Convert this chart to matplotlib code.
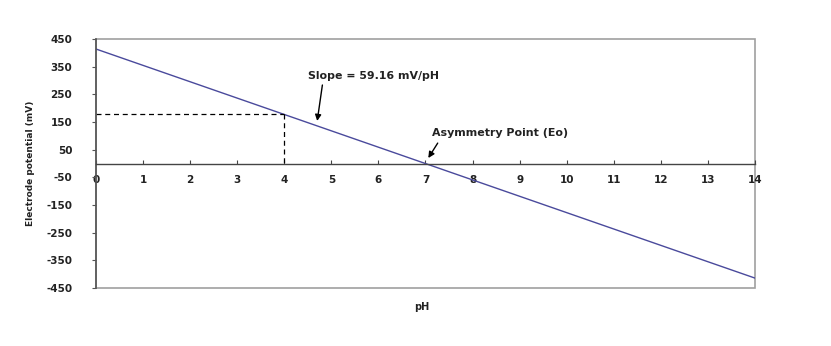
import matplotlib.pyplot as plt
from matplotlib.patches import Rectangle

plt.rcParams.update({'font.family': 'DejaVu Sans', 'font.size': 7,
                     'axes.unicode_minus': False})

ph = [0, 14]
mv = [414.12, -414.12]
ref_ph = 4
ref_mv = 177.48
xticks = list(range(0, 15))
yticks = list(range(-450, 451, 100))

fig = plt.figure(figsize=(8.31, 3.46), dpi=100)
ax = fig.add_axes([0.1155, 0.1676, 0.793, 0.7194])

ax.plot(ph, mv, color='#4a4a9c', lw=1.0)
ax.plot([0, ref_ph], [ref_mv, ref_mv], color='black', lw=0.9, ls=(0, (4, 3)))
ax.plot([ref_ph, ref_ph], [ref_mv, 0], color='black', lw=0.9, ls=(0, (4, 3)))

ax.set_xlim(0, 14)
ax.set_ylim(-450, 450)
ax.set_xticks(xticks)
ax.set_yticks(yticks)

# x axis runs through zero, frame drawn separately
ax.spines['bottom'].set_position(('data', 0))
ax.spines['bottom'].set_color('#444444')
ax.spines['bottom'].set_linewidth(1.0)
for s in ['top', 'right']:
    ax.spines[s].set_visible(False)
ax.spines['left'].set_color('#555555')
ax.spines['left'].set_linewidth(1.2)
ax.add_patch(Rectangle((0, 0), 1, 1, transform=ax.transAxes, fill=False,
                       edgecolor='#a0a0a0', lw=1.2, clip_on=False))

ax.tick_params(axis='x', direction='in', length=3, pad=8, color='#444444', labelsize=7.5)
ax.tick_params(axis='y', direction='out', length=3, pad=14, color='#555555', labelsize=7.5)
for lab in ax.get_xticklabels() + ax.get_yticklabels():
    lab.set_fontweight('bold')
    lab.set_color('#222222')

ax.set_ylabel('Electrode potential (mV)', fontsize=6.5, fontweight='bold', color='#222222')
ax.yaxis.set_label_coords(-0.092, 0.5)
ax.set_xlabel('pH', fontsize=7, fontweight='bold', color='#222222')
ax.xaxis.set_label_coords(0.494, -0.055)

ax.annotate('', xy=(4.7, 154), xytext=(4.81, 284),
            arrowprops=dict(arrowstyle='-|>', color='black', lw=1.0,
                            shrinkA=0, shrinkB=0, mutation_scale=9))
ax.text(4.5, 318, 'Slope = 59.16 mV/pH', fontsize=7.9, fontweight='bold',
        ha='left', va='center', color='#222222')
ax.annotate('', xy=(7.06, 20), xytext=(7.26, 74),
            arrowprops=dict(arrowstyle='-|>', color='black', lw=1.0,
                            shrinkA=0, shrinkB=0, mutation_scale=9))
ax.text(7.13, 110, 'Asymmetry Point (Eo)', fontsize=7.9, fontweight='bold',
        ha='left', va='center', color='#222222')

fig.savefig('out.png', dpi=100)
